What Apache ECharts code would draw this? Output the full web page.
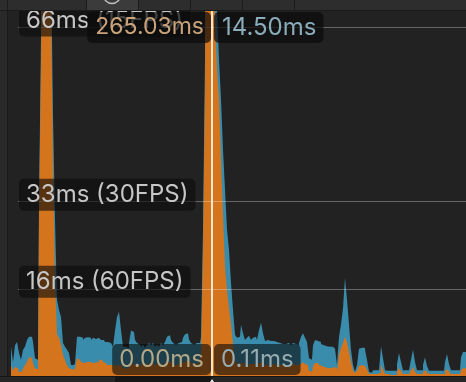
<!DOCTYPE html>
<html><head><meta charset="utf-8">
<script src="https://cdn.jsdelivr.net/npm/echarts@6/dist/echarts.min.js"></script>
<style>html,body{margin:0;padding:0;background:#222;}#c{width:466px;height:382px;}</style>
</head><body><div id="c"></div>
<script>
// Frame times (ms) — total CPU (blue top) and scripts (orange)
const totalMs = [0,0,5.7,2.7,5.9,6.5,4.4,3.1,5.0,5.6,6.9,7.5,7.5,6.5,3.4,3.1,33,65,110,130,125,100,80,50,30,14.6,12.6,11.3,6.3,5.6,5.0,4.4,2.1,2.1,2.5,7.5,7.5,7.3,6.9,7.3,7.4,7.3,6.9,7.3,7.1,7.3,7.3,6.9,6.9,6.5,6.5,6.3,6.5,5.6,8.7,11.3,12.3,8.8,5.6,5.6,5.3,6.3,8.7,8.4,6.9,6.3,6.0,5.6,6.0,5.4,5.9,6.3,5.9,6.3,5.6,6.0,5.6,6.3,5.9,6.5,7.5,7.8,6.9,6.3,6.0,6.3,6.0,6.5,7.3,8.0,8.2,7.0,6.3,6.0,6.3,6.0,6.3,7.5,28,61,150,220,279.53,200,80,70,60.5,52.9,43.3,35.6,28,24.1,17.8,12.6,7.9,7.3,7.5,9.8,8.2,6.9,7.3,7.7,6.9,7.3,7.5,6.9,8.8,10.2,8.2,6.7,6.9,6.7,6.5,6.7,6.5,6.3,6.3,6.1,6.3,6.1,6.3,6.1,5.9,6.3,6.1,5.9,6.3,7.5,8.2,7.3,6.5,3.4,3.1,5.9,6.9,6.7,6.5,6.1,5.9,5.7,5.6,5.6,5.6,5.7,5.2,2.1,7.5,9.8,13.0,18.8,14.6,9.8,5.0,2.1,0.8,2.1,5.2,5.4,5.4,5.0,3.1,0.8,0.6,1.1,1.1,1.1,1.3,5.7,3.4,1.1,1.0,1.0,1.0,1.0,1.0,2.3,4.4,2.7,1.1,1.1,1.1,1.1,3.1,5.0,2.7,1.1,1.1,1.1,2.1,3.6,1.9,1.0,1.0,1.0,1.0,1.0,1.0,1.0,1.0,2.7,4.2,2.3,1.1,1.1,1.1,1.1,1.1,3.6,4.6,4.6];
const scriptsMs = [0,0,2.1,1.1,1.7,1.5,0.8,0.8,1.5,2.1,2.7,3.6,3.5,2.5,1.5,1.3,30,60,100,120,115,92,72,40,18,8.0,7.3,6.0,4.0,3.0,2.1,1.5,1.3,1.3,1.5,3.4,3.1,2.7,2.5,2.7,2.9,2.7,2.5,2.7,2.6,2.7,3.1,3.1,2.7,2.5,2.1,2.1,2.1,1.9,1.9,2.1,2.1,1.9,1.5,1.5,1.5,1.9,2.1,2.5,2.1,1.9,2.1,2.1,2.5,2.1,2.3,2.5,2.1,2.5,2.1,2.3,2.1,2.5,2.1,2.5,2.7,2.7,2.5,2.1,2.1,2.3,2.1,2.5,2.7,2.9,3.1,2.7,2.5,2.3,2.5,2.3,2.7,4.0,24,55,140,205,265.03,185,68,58.6,52.9,41.4,30.8,20.9,16.5,13,10,6,3.0,2.5,2.1,2.5,2.5,2.1,2.1,2.3,2.1,2.3,2.3,2.1,2.5,2.7,2.5,2.1,2.1,2.1,2.1,2.3,2.1,2.1,2.1,2.1,2.3,2.1,2.1,2.1,2.1,2.3,2.1,2.1,2.3,2.5,2.7,2.3,2.1,1.0,0.8,1.9,2.5,2.5,2.1,1.9,1.7,1.7,1.5,1.5,1.5,1.7,1.5,0.8,4.0,5.4,6.3,7.5,6.5,4.6,2.7,1.0,0.6,1.0,1.9,2.1,1.9,1.9,1.3,0.4,0.4,0.4,0.4,0.4,0.6,2.1,1.3,0.4,0.4,0.2,0.2,0.2,0.2,0.8,1.5,1.0,0.4,0.4,0.4,0.4,1.1,1.7,0.8,0.4,0.4,0.4,0.8,1.1,0.6,0.4,0.4,0.4,0.4,0.4,0.4,0.4,0.4,1.0,1.3,0.8,0.4,0.4,0.4,0.4,0.4,1.1,1.5,1.5];
const frames = totalMs.map((_, i) => i + 1);
const selectedFrame = 102;
const fpsLines = [{ms: 1000/15, text: '66ms (15FPS)'}, {ms: 1000/30, text: '33ms (30FPS)'}, {ms: 1000/60, text: '16ms (60FPS)'}];
const topValues = ['265.03ms', '14.50ms'];
const bottomValues = ['0.00ms', '0.11ms'];

(function () {
const chart = echarts.init(document.getElementById('c'), null, {renderer: 'canvas'});
const FONT = 'Inter, Roboto, sans-serif';
chart.setOption({
  backgroundColor: '#222222',
  animation: false,
  grid: {left: 8, right: 0, top: 10, bottom: 6},
  xAxis: {type: 'category', data: frames, boundaryGap: false, show: false},
  yAxis: {type: 'value', min: 0, max: 70, show: false, splitLine: {show: false}},
  series: [
    {type: 'line', data: totalMs, step: 'middle', symbol: 'none', z: 2,
     lineStyle: {width: 0}, areaStyle: {color: '#3a8cad', opacity: 1}, clip: true},
    {type: 'line', data: scriptsMs, step: 'middle', symbol: 'none', z: 3,
     lineStyle: {width: 0}, areaStyle: {color: '#d4741d', opacity: 1}, clip: true,
     markLine: {silent: true, symbol: 'none', animation: false, label: {show: false},
       lineStyle: {color: 'rgba(255,255,255,0.3)', width: 1, type: 'solid'},
       data: fpsLines.map(f => [{coord: [5, f.ms]}, {coord: [frames.length - 1, f.ms]}])}
    },
    {type: 'line', data: [], z: 10,
     markLine: {silent: true, symbol: 'none', animation: false, label: {show: false},
       lineStyle: {color: '#f8e6d0', width: 2, type: 'solid'},
       data: [{xAxis: selectedFrame}]}}
  ]
});

const yP = v => chart.convertToPixel({yAxisIndex: 0}, v);
const xP = i => chart.convertToPixel({xAxisIndex: 0}, i);
const xs = xP(selectedFrame);
const graphics = [];
graphics.push({type: 'rect', shape: {x: 0, y: 0, width: 466, height: 10}, style: {fill: '#2d2d2d'}, z: 50});
graphics.push({type: 'rect', shape: {x: 87, y: 0, width: 51, height: 10}, style: {fill: '#3b3b3b'}, z: 51});
[7, 86, 138, 190, 242, 294].forEach(x => graphics.push({type: 'rect', shape: {x: x, y: 0, width: 1, height: 10}, style: {fill: '#1c1c1c'}, z: 52}));
graphics.push({type: 'rect', shape: {x: 0, y: 10, width: 466, height: 1}, style: {fill: '#1a1a1a'}, z: 52});
graphics.push({type: 'circle', shape: {cx: 112, cy: -5, r: 8.5}, style: {fill: 'none', stroke: '#bdbdbd', lineWidth: 1.5}, z: 53});
graphics.push({type: 'rect', shape: {x: 0, y: 0, width: 7, height: 382}, style: {fill: '#292929'}, z: 49});
graphics.push({type: 'rect', shape: {x: 7, y: 10, width: 1, height: 372}, style: {fill: '#1b1b1b'}, z: 49});
graphics.push({type: 'rect', shape: {x: 0, y: 376, width: 466, height: 6}, style: {fill: '#262626'}, z: 49});
graphics.push({type: 'rect', shape: {x: 0, y: 376, width: 466, height: 1}, style: {fill: '#141414'}, z: 49});
graphics.push({type: 'rect', shape: {x: 115, y: 377, width: 97, height: 5}, style: {fill: '#161616'}, z: 49});
graphics.push({type: 'polygon', shape: {points: [[xs - 2, 382], [xs + 2, 382], [xs, 379]]}, style: {fill: '#eeeeee'}, z: 50});

fpsLines.forEach(f => {
  const y = yP(f.ms);
  graphics.push({type: 'text', x: 19, y: y - 23, z: 20,
    style: {text: f.text, font: '24px ' + FONT, fill: '#c6c6c6', backgroundColor: 'rgba(12,12,12,0.62)',
      padding: [4, 7, 4, 7], borderRadius: 5, lineHeight: 24, verticalAlign: 'top', align: 'left'}});
});
const topY = yP(70) + 2;
graphics.push({type: 'text', x: xs - 1, y: topY, z: 30,
  style: {text: topValues[0], font: '23px ' + FONT, fill: '#caa37a', backgroundColor: 'rgba(10,10,10,0.7)',
    padding: [4, 7, 4, 8], borderRadius: 5, lineHeight: 23, verticalAlign: 'top', align: 'right'}});
graphics.push({type: 'text', x: xs + 2, y: topY, z: 30,
  style: {text: topValues[1], font: '24px ' + FONT, fill: '#8aacbb', backgroundColor: 'rgba(10,10,10,0.7)',
    padding: [4, 7, 4, 8], borderRadius: 5, lineHeight: 23, verticalAlign: 'top', align: 'left'}});
const botY = yP(0) - 32;
graphics.push({type: 'text', x: xs - 1, y: botY, z: 30,
  style: {text: bottomValues[0], font: '24px ' + FONT, fill: '#b3a887', backgroundColor: 'rgba(10,10,10,0.6)',
    padding: [4, 7, 4, 7], borderRadius: 5, lineHeight: 23, verticalAlign: 'top', align: 'right'}});
graphics.push({type: 'text', x: xs + 2, y: botY, z: 30,
  style: {text: bottomValues[1], font: '24px ' + FONT, fill: '#98abb0', backgroundColor: 'rgba(10,10,10,0.6)',
    padding: [4, 7, 4, 7], borderRadius: 5, lineHeight: 23, verticalAlign: 'top', align: 'left'}});
chart.setOption({graphic: graphics});
})();
</script></body></html>
